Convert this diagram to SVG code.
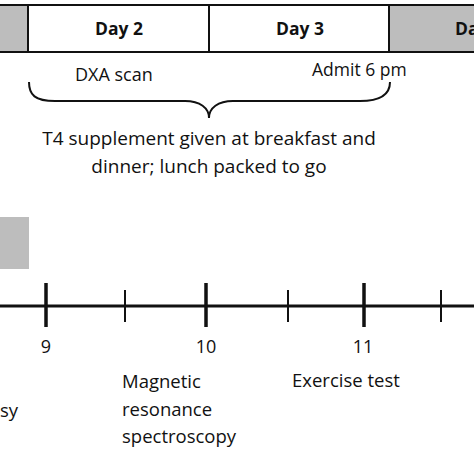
<svg xmlns="http://www.w3.org/2000/svg" width="474" height="474" viewBox="0 0 474 474">
<style>
text{font-family:"Open Sans","Liberation Sans",sans-serif;fill:#111;}
.day{font-weight:bold;font-size:17.5px;text-anchor:middle;}
.lbl{font-size:18px;}
.big{font-size:18.5px;}
.num{font-size:18px;text-anchor:middle;}
.box{stroke:#111;stroke-width:2;}
.gray{fill:#bdbdbd;}
.white{fill:#fff;}
.major{stroke:#111;stroke-width:3.5;}
.minor{stroke:#111;stroke-width:2;}
</style>
<rect width="474" height="474" fill="#fff"/>
<g id="day1"><rect class="box gray" x="-5" y="5" width="33" height="47"/></g>
<g id="day2"><rect class="box white" x="28" y="5" width="181" height="47"/><text class="day" x="119" y="35">Day 2</text></g>
<g id="day3"><rect class="box white" x="209" y="5" width="180" height="47"/><text class="day" x="300" y="35">Day 3</text></g>
<g id="day4"><rect class="box gray" x="389" y="5" width="95" height="47"/><text class="day" x="455" y="35" style="text-anchor:start">Da</text></g>
<g id="dxa"><text class="lbl" x="75" y="81">DXA scan</text></g>
<g id="admit"><text class="lbl" x="312" y="76" style="font-size:17.5px">Admit 6 pm</text></g>
<g id="brace"><path d="M29,82 C29,95 35,101 55,101 L185,101 C200,101 209,108 209,118 C209,108 218,101 233,101 L360,101 C380,101 390,95 390,82" fill="none" stroke="#111" stroke-width="2"/></g>
<g id="t4"><text class="big" x="209" y="145" text-anchor="middle" style="font-size:19px">T4 supplement given at breakfast and</text><text class="big" x="209" y="173" text-anchor="middle" style="font-size:19px">dinner; lunch packed to go</text></g>
<g id="graybox"><rect class="gray" x="0" y="217" width="29" height="52"/></g>
<g id="timeline">
<line x1="0" y1="306" x2="474" y2="306" class="major" style="stroke-width:3"/>
<line x1="46" y1="283" x2="46" y2="327" class="major"/>
<line x1="206" y1="283" x2="206" y2="327" class="major"/>
<line x1="364" y1="283" x2="364" y2="327" class="major"/>
<line x1="125" y1="290" x2="125" y2="322" class="minor"/>
<line x1="288" y1="290" x2="288" y2="322" class="minor"/>
<line x1="441" y1="290" x2="441" y2="322" class="minor"/>
</g>
<g id="labels">
<text class="num" x="46" y="353">9</text>
<text class="num" x="206" y="353">10</text>
<text class="num" x="363" y="353">11</text>
<text class="big" x="18" y="417" text-anchor="end">sy</text>
<text class="big" x="122" y="388">Magnetic</text>
<text class="big" x="122" y="416">resonance</text>
<text class="big" x="122" y="443">spectroscopy</text>
<text class="big" x="292" y="387">Exercise test</text>
</g>
</svg>
